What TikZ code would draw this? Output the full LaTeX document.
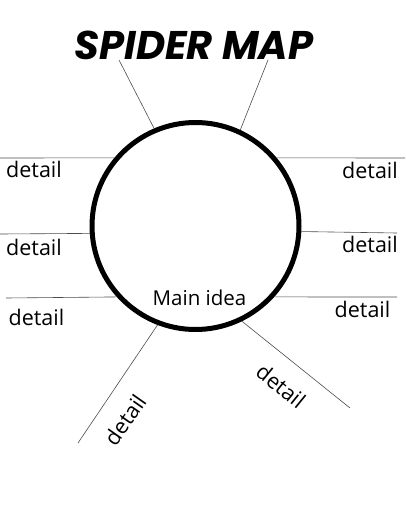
\documentclass[tikz,border=0pt]{standalone}
\usepackage{fontspec}
\setmainfont{Open Sans}
\newfontfamily\titlefont{Poppins}
\usetikzlibrary{positioning}

\begin{document}
\begin{tikzpicture}[%
            x=1pt, y=-1pt,
            hub/.style={circle, draw, line width=5pt, minimum size=207pt, inner sep=0pt},
            spoke/.style={draw=black!70, line width=0.6pt},
            detail/.style={font=\fontsize{21.5}{25}\selectfont, inner sep=0pt},
            heading/.style={font=\titlefont\bfseries\itshape\fontsize{40}{44}\selectfont, inner sep=0pt}
        ]
        \useasboundingbox (0,0) rectangle (405,525);

        % Title
        \node[heading] (title) at (194,45) {SPIDER MAP};

        % Main idea circle
        \node[hub] (main) at (195.5,226) {};
        \node[detail, font=\fontsize{20.5}{24}\selectfont] (idea) at (199.5,298) {Main idea};

        % Free ends of the spokes
        \coordinate (tl) at (119,60);
        \coordinate (tr) at (268,60);
        \coordinate (l1) at (0,158);
        \coordinate (l2) at (0,234);
        \coordinate (l3) at (6,298);
        \coordinate (r1) at (405,158);
        \coordinate (r2) at (397,233);
        \coordinate (r3) at (397,297);
        \coordinate (bl) at (78,443);
        \coordinate (br) at (350,408);

        % Spokes from the circle
        \draw[spoke] (main.113) -- (tl);
        \draw[spoke] (main.65) -- (tr);
        \draw[spoke] (main.140) -- (l1);
        \draw[spoke] (main.184.3) -- (l2);
        \draw[spoke] (main.222.8) -- (l3);
        \draw[spoke] (main.40) -- (r1);
        \draw[spoke] (main.-3.8) -- (r2);
        \draw[spoke] (main.-42) -- (r3);
        \draw[spoke] (main.249) -- (bl);
        \draw[spoke] (main.-64) -- (br);

        % Detail labels
        \node[detail] (dl1) at (34,169.5) {detail};
        \node[detail] (dl2) at (34,247.5) {detail};
        \node[detail] (dl3) at (36.5,317.5) {detail};
        \node[detail] (dr1) at (370,170) {detail};
        \node[detail] (dr2) at (370,244.5) {detail};
        \node[detail] (dr3) at (362.5,309.5) {detail};
        \node[detail, rotate=55] (dbl) at (125,420) {detail};
        \node[detail, rotate=-39] (dbr) at (281,386) {detail};

        \end{tikzpicture}
\end{document}
